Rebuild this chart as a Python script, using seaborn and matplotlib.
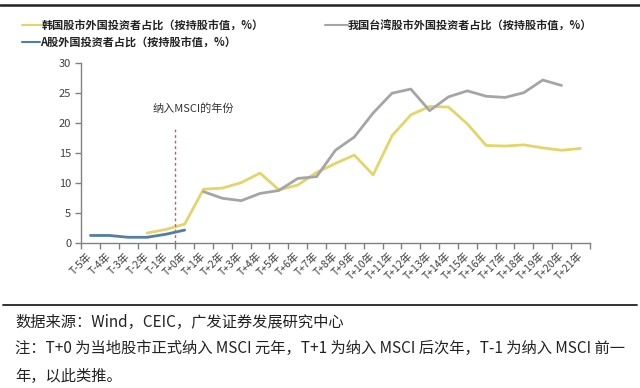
import numpy as np
import pandas as pd
import matplotlib
matplotlib.use("Agg")
import matplotlib.pyplot as plt
import seaborn as sns

# === Data ===
periods = ["T-5年", "T-4年", "T-3年", "T-2年", "T-1年", "T+0年", "T+1年", "T+2年", "T+3年",
           "T+4年", "T+5年", "T+6年", "T+7年", "T+8年", "T+9年", "T+10年", "T+11年",
           "T+12年", "T+13年", "T+14年", "T+15年", "T+16年", "T+17年", "T+18年",
           "T+19年", "T+20年", "T+21年"]

korea = [np.nan, np.nan, np.nan, 1.7, 2.3, 3.2, 9.0, 9.2, 10.1, 11.7, 8.9, 9.7, 11.8,
         13.3, 14.7, 11.4, 17.9, 21.4, 22.8, 22.7, 19.9, 16.3, 16.2, 16.4, 15.9, 15.5, 15.8]
taiwan = [np.nan, np.nan, np.nan, np.nan, np.nan, np.nan, 8.6, 7.5, 7.1, 8.3, 8.8, 10.8,
          11.1, 15.5, 17.7, 21.7, 25.0, 25.7, 22.1, 24.4, 25.4, 24.5, 24.3, 25.1, 27.2,
          26.3, np.nan]
ashare = [1.3, 1.3, 1.0, 1.0, 1.5, 2.2] + [np.nan] * 21

labels = ["韩国股市外国投资者占比（按持股市值，%）",
          "我国台湾股市外国投资者占比（按持股市值，%）",
          "A股外国投资者占比（按持股市值，%）"]
colors = ["#E3D56A", "#A5A5A5", "#4F7EA6"]

df = pd.DataFrame({"pos": np.arange(len(periods)), labels[0]: korea,
                   labels[1]: taiwan, labels[2]: ashare})
long_df = df.melt(id_vars="pos", var_name="series", value_name="value").dropna()

# === Plot ===
sns.set_style("white")
plt.rcParams["font.family"] = ["Noto Sans CJK SC", "DejaVu Sans"]

fig = plt.figure(figsize=(6.4, 3.88), dpi=100)
ax = fig.add_axes([0.1266, 0.373, 0.795, 0.464])

sns.lineplot(data=long_df, x="pos", y="value", hue="series", hue_order=labels,
             palette=colors, linewidth=2, ax=ax, legend=False)

# MSCI inclusion marker
ax.plot([4.5, 4.5], [0, 19], color="#D9545A", linestyle=(0, (2, 2)), linewidth=1)
ax.text(5.45, 22.5, "纳入MSCI的年份", ha="center", va="center", fontsize=8, color="#333333")

ax.set_xlim(-0.5, len(periods) - 0.5)
ax.set_ylim(0, 30)
ax.set_yticks(range(0, 31, 5))
ax.set_xticks(np.arange(-0.5, len(periods), 1.0))
ax.set_xticklabels([])
ax.set_xticks(np.arange(len(periods)), minor=True)
ax.set_xticklabels(periods, minor=True, rotation=45, ha="right", va="center",
                   rotation_mode="anchor", fontsize=7.5, color="#404040")
ax.tick_params(axis="x", which="major", length=4, width=1, color="#808080", direction="out",
               bottom=True)
ax.tick_params(axis="x", which="minor", length=0, pad=8)
ax.tick_params(axis="y", length=4, width=1, color="#808080", direction="out", left=True,
               labelsize=8, labelcolor="#404040", pad=3)
ax.set_xlabel("")
ax.set_ylabel("")
for side in ["top", "right"]:
    ax.spines[side].set_visible(False)
for side in ["left", "bottom"]:
    ax.spines[side].set_color("#808080")
    ax.spines[side].set_linewidth(1)

# Legend drawn as figure text
def legend_item(x0, x1, y, color, text):
    fig.add_artist(plt.Line2D([x0 / 640, x1 / 640], [1 - y / 388] * 2,
                              color=color, linewidth=1.5))
    fig.text(x1 / 640, 1 - y / 388, text, ha="left", va="center", fontsize=8,
             fontweight="bold", color="#222222")

legend_item(22, 42, 25, colors[0], labels[0])
legend_item(325, 348, 25, colors[1], labels[1])
legend_item(22, 40, 42, colors[2], labels[2])

# Top and bottom rules
fig.add_artist(plt.Line2D([0.0, 1.0], [1 - 5 / 388] * 2, color="#222222", linewidth=1.8))
fig.add_artist(plt.Line2D([3 / 640, 637 / 640], [1 - 305 / 388] * 2, color="#222222",
                          linewidth=1.3))

# Footnotes
fig.text(15 / 640, 1 - 322 / 388, "数据来源：Wind，CEIC，广发证券发展研究中心",
         ha="left", va="center", fontsize=11, color="#222222")
fig.text(15 / 640, 1 - 348 / 388,
         "注：T+0 为当地股市正式纳入 MSCI 元年，T+1 为纳入 MSCI 后次年，T-1 为纳入 MSCI 前一",
         ha="left", va="center", fontsize=11, color="#222222")
fig.text(15 / 640, 1 - 376 / 388, "年，以此类推。",
         ha="left", va="center", fontsize=11, color="#222222")

fig.savefig("out.png", dpi=100, facecolor="white")
